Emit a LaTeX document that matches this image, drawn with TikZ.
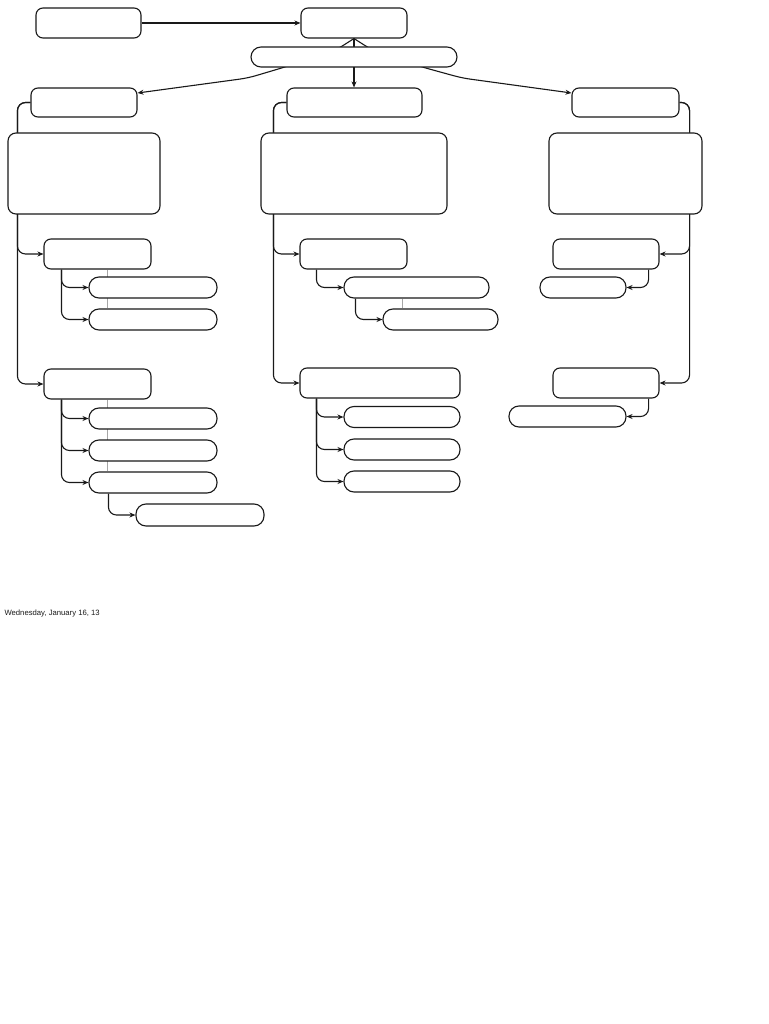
\documentclass[tikz,border=0pt]{standalone}
\usepackage{fontspec}
\setmainfont{Liberation Sans}
\usetikzlibrary{arrows.meta,backgrounds}
\begin{document}
\begin{tikzpicture}[x=1pt,y=-1pt,line width=1.1pt,color=black!90]
          \tikzstyle{every node}=[draw,fill=white,rounded corners=7pt,inner sep=0pt,minimum height=30pt];
          \tikzstyle{pill}=[rounded corners=10pt,minimum height=21pt];
          \tikzstyle{big}=[rounded corners=8pt,minimum height=81pt];
          \tikzstyle{link}=[line width=1.1pt,black!90,-{Stealth[length=6pt,width=5pt]},rounded corners=8pt];
          \tikzstyle{guide}=[line width=0.5pt,black!35];
          \useasboundingbox (0,0) rectangle (768,1024);
          %top row
          \node (src) at (88.5,23) [minimum width=105pt] {};
          \node (hub) at (354,23) [minimum width=106pt] {};
          \node (bar) at (354,57) [pill,minimum width=206pt,minimum height=20pt] {};
          %column heads
          \node (l1) at (84,102.5) [minimum width=106pt,minimum height=29pt] {};
          \node (m1) at (354.5,102.5) [minimum width=135pt,minimum height=29pt] {};
          \node (r1) at (625.5,102.5) [minimum width=107pt,minimum height=29pt] {};
          \node (l2) at (84,173.5) [big,minimum width=152pt] {};
          \node (m2) at (354,173.5) [big,minimum width=186pt] {};
          \node (r2) at (625.5,173.5) [big,minimum width=153pt] {};
          %left column
          \node (l3) at (97.5,254) [minimum width=107pt] {};
          \node (l3a) at (153,287.5) [pill,minimum width=128pt] {};
          \node (l3b) at (153,319.5) [pill,minimum width=128pt] {};
          \node (l4) at (97.5,384) [minimum width=107pt] {};
          \node (l4a) at (153,418.5) [pill,minimum width=128pt] {};
          \node (l4b) at (153,450.5) [pill,minimum width=128pt] {};
          \node (l4c) at (153,482.5) [pill,minimum width=128pt] {};
          \node (l5) at (200,515) [pill,minimum width=128pt,minimum height=22pt] {};
          %middle column
          \node (m3) at (353.5,254) [minimum width=107pt] {};
          \node (m3a) at (416.5,287.5) [pill,minimum width=145pt] {};
          \node (m3b) at (440.5,319.5) [pill,minimum width=115pt] {};
          \node (m4) at (380,383) [minimum width=160pt] {};
          \node (m4a) at (402,417) [pill,minimum width=116pt] {};
          \node (m4b) at (402,449.5) [pill,minimum width=116pt] {};
          \node (m4c) at (402,481.5) [pill,minimum width=116pt] {};
          %right column
          \node (r3) at (606,254) [minimum width=106pt] {};
          \node (r3a) at (583,287.5) [pill,minimum width=86pt] {};
          \node (r4) at (606,383) [minimum width=106pt] {};
          \node (r4a) at (567.5,416.5) [pill,minimum width=117pt] {};
          \node (date) at (4,614) [draw=none,fill=none,anchor=west,minimum height=0pt,font=\fontsize{7.7}{9}\selectfont] {Wednesday, January 16, 13};
          \begin{pgfonlayer}{background}
          \draw[link] (src) -- (hub);
          \draw[link] (hub.south) -- (336,50) -- (285,67) -- (248,78) -- ([yshift=9.5pt]l1.east);
          \draw[link] (hub.south) -- (hub.south |- m1.north);
          \draw[link] (hub.south) -- (372,50) -- (422,67) -- (462,78) -- ([yshift=9.5pt]r1.west);
          %left
          \draw[link] (l1.west) -- ++(-13,0) |- (l3.west);
          \draw[link] (l1.west) -- ++(-13,0) |- (l4.west);
          \draw[link] ([xshift=18pt]l3.south west) |- (l3a.west);
          \draw[link] ([xshift=18pt]l3.south west) |- (l3b.west);
          \draw[guide] ([xshift=64pt]l3.south west) -- ([xshift=19pt]l3b.north west);
          \draw[link] ([xshift=18pt]l4.south west) |- (l4a.west);
          \draw[link] ([xshift=18pt]l4.south west) |- (l4b.west);
          \draw[link] ([xshift=18pt]l4.south west) |- (l4c.west);
          \draw[guide] ([xshift=64pt]l4.south west) -- ([xshift=19pt]l4c.north west);
          \draw[link] ([xshift=20pt]l4c.south west) |- (l5.west);
          %middle
          \draw[link] (m1.west) -- ++(-13,0) |- (m3.west);
          \draw[link] (m1.west) -- ++(-13,0) |- (m4.west);
          \draw[link] ([xshift=17pt]m3.south west) |- (m3a.west);
          \draw[link] ([xshift=12pt]m3a.south west) |- (m3b.west);
          \draw[guide] ([xshift=59pt]m3a.south west) -- ([xshift=20pt]m3b.north west);
          \draw[link] ([xshift=17pt]m4.south west) |- (m4a.west);
          \draw[link] ([xshift=17pt]m4.south west) |- (m4b.west);
          \draw[link] ([xshift=17pt]m4.south west) |- (m4c.west);
          %right
          \draw[link] (r1.east) -- ++(10,0) |- (r3.east);
          \draw[link] (r1.east) -- ++(10,0) |- (r4.east);
          \draw[link] ([xshift=-11pt]r3.south east) |- (r3a.east);
          \draw[link] ([xshift=-11pt]r4.south east) |- (r4a.east);
          \end{pgfonlayer}
      \end{tikzpicture}
\end{document}
